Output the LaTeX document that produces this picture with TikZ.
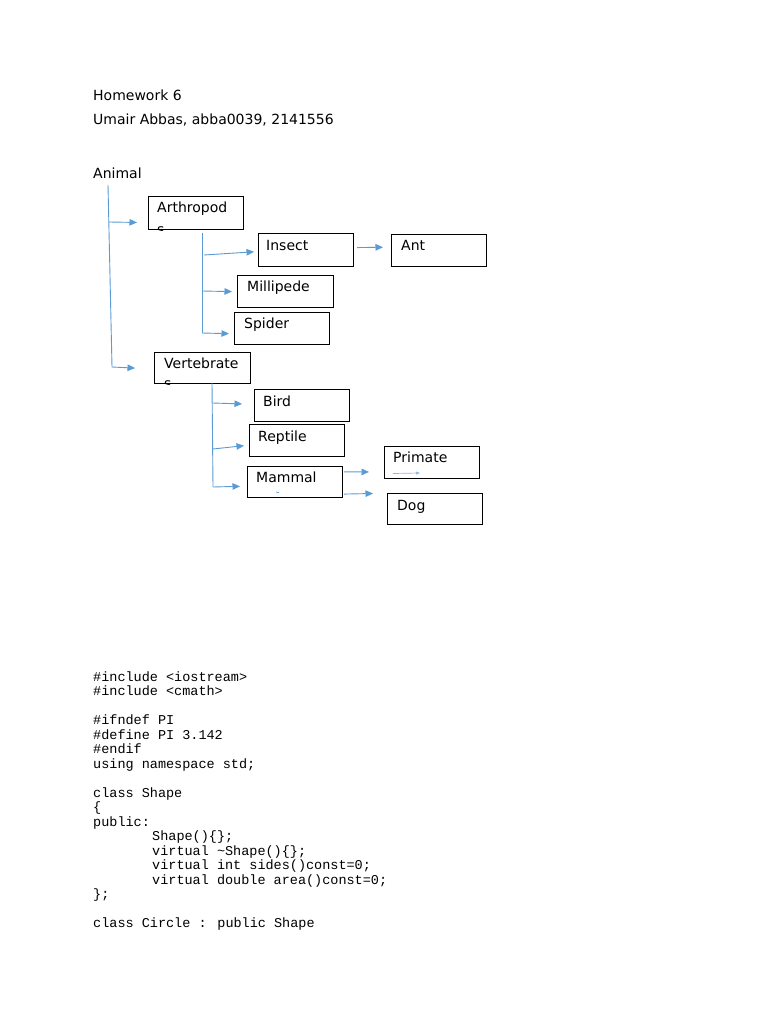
\documentclass[tikz,border=0pt]{standalone}
\usepackage{fontspec}
\setmainfont{DejaVu Sans}
\newfontfamily\codefont{Liberation Mono}
\usetikzlibrary{arrows.meta,calc}
\definecolor{arrblue}{HTML}{5B9BD5}
\tikzset{
 bx/.style={draw=black,line width=1.2pt,minimum width=95pt,minimum height=32pt,anchor=north west,inner sep=0pt},
 lbl/.style={anchor=base west,inner sep=0pt,font=\fontsize{14}{17}\selectfont},
 arr/.style={draw=arrblue,line width=0.9pt,-{Triangle[length=7.5pt,width=6.5pt]}},
 ln/.style={draw=arrblue,line width=0.9pt},
 cd/.style={anchor=base west,inner sep=0pt,font=\codefont\fontsize{13.5}{16}\selectfont}
}
\begin{document}
\begin{tikzpicture}[x=1pt,y=-1pt]
\fill[white] (0,0) rectangle (768,1024);
\path[use as bounding box] (0,0) rectangle (768,1024);

% header
\node[lbl] (hw) at (93,101) {Homework 6};
\node[lbl] (name) at (93,125) {Umair Abbas, abba0039, 2141556};
\node[lbl] (animal) at (93,179) {Animal};

% boxes
\node[bx,minimum height=33pt] (arth) at (148,196) {};
\node[bx,minimum height=33pt] (insect) at (258,233) {};
\node[bx] (ant) at (391,234) {};
\node[bx,minimum width=96pt] (milli) at (237,275) {};
\node[bx] (spider) at (234,312) {};
\node[bx,minimum width=96pt,minimum height=31pt] (vert) at (154,352) {};
\node[bx] (bird) at (254,389) {};
\node[bx] (rept) at (249,424) {};
\node[bx,minimum height=31pt] (mamm) at (247,466) {};
\node[bx] (prim) at (384,446) {};
\node[bx,minimum height=31pt] (dog) at (387,493) {};

% labels
\node[lbl] (arthT) at (157,213) {Arthropod};
\begin{scope}
 \clip (arth.north west) rectangle (arth.south east);
 \node[lbl] (arthS) at (157,234) {s};
\end{scope}
\node[lbl] (insectT) at (266,250) {Insect};
\node[lbl] (antT) at (401,250) {Ant};
\node[lbl] (milliT) at (247,291) {Millipede};
\node[lbl] (spiderT) at (244,328) {Spider};
\node[lbl] (vertT) at (164,368) {Vertebrate};
\begin{scope}
 \clip (vert.north west) rectangle (vert.south east);
 \node[lbl] (vertS) at (164,388) {s};
\end{scope}
\node[lbl] (birdT) at (263,406) {Bird};
\node[lbl] (reptT) at (258,441) {Reptile};
\node[lbl] (mammT) at (256,482) {Mammal};
\node[lbl] (primT) at (393,462) {Primate};
\node[lbl] (dogT) at (397,510) {Dog};

% trunk from Animal
\coordinate (tA0) at (108,185);
\coordinate (tA1) at (112,367);
\draw[ln] (tA0) -- (tA1);
\coordinate (tA2) at (109,222);
\draw[arr] (tA2) -- ([xshift=-11pt]arth.191);
\draw[arr] (tA1) -- ([xshift=-19pt]vert.west);

% trunk from Arthropods
\coordinate (tB0) at (202,233);
\coordinate (tB1) at (202,333);
\draw[ln] (tB0) -- (tB1);
\coordinate (tB2) at (204,255);
\coordinate (tB3) at (202,291);
\draw[arr] (tB2) -- ([xshift=-4pt]insect.182);
\draw[arr] (tB3) -- ([xshift=-5pt]milli.west);
\draw[arr] (tB1) -- ([xshift=-5pt]spider.186);
\draw[arr] ([xshift=3pt]insect.3) -- ([xshift=-8pt]ant.176);

% trunk from Vertebrates
\coordinate (tC0) at (212,383);
\coordinate (tC1) at (213,487);
\draw[ln] (tC0) -- (tC1);
\coordinate (tC2) at (212.5,403);
\coordinate (tC3) at (213,449);
\draw[arr] (tC2) -- ([xshift=-12pt]bird.178);
\draw[arr] (tC3) -- ([xshift=-5pt]rept.186);
\draw[arr] (tC1) -- ([xshift=-7pt]mamm.185);
\draw[arr] ([xshift=1pt]mamm.12) -- ([xshift=-15pt]prim.191);
\draw[arr] ([xshift=1pt]mamm.346) -- ([xshift=-14pt]dog.162);

% stray marks
\coordinate (m1) at (276,492);
\draw[ln,line width=0.7pt] (m1) -- ++(3,0.6);
\coordinate (p1) at (393,473.5);
\draw[draw=arrblue!70,line width=0.7pt,-{Triangle[length=4pt,width=3pt]}] (p1) -- ++(27,-0.5);

% code
\node[cd] (c1) at (93,681) {\#include <iostream>};
\node[cd] (c2) at (93,695.5) {\#include <cmath>};
\node[cd] (c4) at (93,724.5) {\#ifndef PI};
\node[cd] (c5) at (93,739) {\#define PI 3.142};
\node[cd] (c6) at (93,753.5) {\#endif};
\node[cd] (c7) at (93,768) {using namespace std;};
\node[cd] (c9) at (93,797) {class Shape};
\node[cd] (c10) at (93,811.5) {\{};
\node[cd] (c11) at (93,826) {public:};
\node[cd] (c12) at (152,840.5) {Shape()\{\};};
\node[cd] (c13) at (152,855) {virtual \textasciitilde Shape()\{\};};
\node[cd] (c14) at (152,869.5) {virtual int sides()const=0;};
\node[cd] (c15) at (152,884) {virtual double area()const=0;};
\node[cd] (c16) at (93,898.5) {\};};
\node[cd] (c18) at (93,927) {class Circle : public Shape};
\end{tikzpicture}
\end{document}
